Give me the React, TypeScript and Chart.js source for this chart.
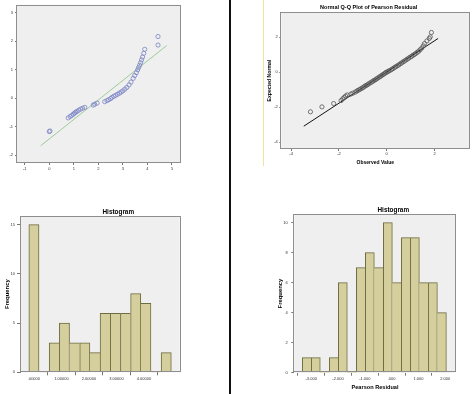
import React, { useEffect, useRef } from 'react';
import { Chart, registerables } from 'chart.js';

Chart.register(...registerables);

const FONT = '"Liberation Sans", Arial, Helvetica, sans-serif';

// ---------- Panel A: top-left Q-Q plot ----------
const qqAX = [0, 0.03, 0.77, 0.85, 0.92, 0.98, 1.03, 1.08, 1.13, 1.2, 1.28, 1.36, 1.45, 1.79, 1.85, 1.95,
  2.26, 2.35, 2.42, 2.5, 2.56, 2.63, 2.7, 2.78, 2.86, 2.93, 3.0, 3.08, 3.16, 3.25, 3.33, 3.42, 3.48,
  3.55, 3.6, 3.64, 3.68, 3.72, 3.76, 3.8, 3.85, 3.89, 4.43, 4.43];
const qqAY = [-1.17, -1.15, -0.69, -0.64, -0.6, -0.56, -0.52, -0.49, -0.46, -0.42, -0.38, -0.35, -0.32, -0.24, -0.21, -0.17,
  -0.12, -0.08, -0.05, -0.01, 0.03, 0.07, 0.1, 0.14, 0.18, 0.22, 0.26, 0.32, 0.38, 0.47, 0.57, 0.7, 0.8,
  0.9, 1.0, 1.08, 1.16, 1.25, 1.35, 1.45, 1.58, 1.72, 1.87, 2.17];
const qqALineX = [-0.35, 4.78];
const qqALineY = [-1.67, 1.85];
const qqAXTicks = [-1, 0, 1, 2, 3, 4, 5];
const qqAXLabels = ['-1', '0', '1', '2', '3', '4', '5'];
const qqAYTicks = [-2, -1, 0, 1, 2, 3];
const qqAYLabels = ['-2', '-1', '0', '1', '2', '3'];

// ---------- Panel B: top-right Normal Q-Q plot of Pearson Residual ----------
const qqBObserved = [-3.19, -2.71, -2.22, -1.91, -1.84, -1.78, -1.72, -1.65, -1.5, -1.42,
  -1.32, -1.25, -1.2, -1.14, -1.08, -1.02, -0.97, -0.92, -0.86, -0.81, -0.76, -0.7, -0.64, -0.58, -0.53,
  -0.47, -0.42, -0.37, -0.31, -0.26, -0.21, -0.16, -0.11, -0.06, -0.02, 0.03, 0.08, 0.14, 0.2, 0.26,
  0.32, 0.38, 0.44, 0.5, 0.56, 0.62, 0.68, 0.74, 0.8, 0.86, 0.92, 0.98, 1.04, 1.1, 1.16, 1.22, 1.28,
  1.34, 1.4, 1.47, 1.53, 1.58, 1.68, 1.78, 1.82, 1.87];
const qqBExpected = [-2.26, -1.98, -1.79, -1.62, -1.52, -1.44, -1.36, -1.3, -1.25, -1.2,
  -1.14, -1.08, -1.04, -0.99, -0.95, -0.9, -0.86, -0.8, -0.76, -0.72, -0.67, -0.62, -0.57, -0.52, -0.47,
  -0.43, -0.38, -0.33, -0.28, -0.24, -0.19, -0.14, -0.1, -0.05, -0.01, 0.02, 0.06, 0.1, 0.15, 0.2,
  0.26, 0.31, 0.36, 0.41, 0.47, 0.52, 0.58, 0.63, 0.69, 0.74, 0.8, 0.85, 0.9, 0.96, 1.01, 1.07, 1.13,
  1.2, 1.28, 1.38, 1.5, 1.63, 1.78, 1.92, 2.01, 2.26];
const qqBLineX = [-3.47, 2.15];
const qqBLineY = [-3.08, 1.92];
const qqBXTicks = [-4, -2, 0, 2];
const qqBXLabels = ['-4', '-2', '0', '2'];
const qqBYTicks = [-4, -2, 0, 2];
const qqBYLabels = ['-4', '-2', '0', '2'];

// ---------- Panel C: bottom-left histogram ----------
const histCCenters = [0, 0.37, 0.74, 1.11, 1.48, 1.85, 2.22, 2.59, 2.96, 3.33, 3.7, 4.07, 4.44, 4.81];
const histCCounts = [15, 0, 3, 5, 3, 3, 2, 6, 6, 6, 8, 7, 0, 2];
const histCXTicks = [0, 1, 2, 3, 4];
const histCXLabels = ['.00000', '1.00000', '2.00000', '3.00000', '4.00000'];
const histCYTicks = [0, 5, 10, 15];
const histCYLabels = ['0', '5', '10', '15'];

// ---------- Panel D: bottom-right histogram of Pearson Residual ----------
const histDCenters = [-3.165, -2.829, -2.493, -2.157, -1.821, -1.485, -1.149, -0.813, -0.477, -0.141,
  0.195, 0.531, 0.867, 1.203, 1.539, 1.875];
const histDCounts = [1, 1, 0, 1, 6, 0, 7, 8, 7, 10, 6, 9, 9, 6, 6, 4];
const histDXTicks = [-3, -2, -1, 0, 1, 2];
const histDXLabels = ['-3.000', '-2.000', '-1.000', '.000', '1.000', '2.000'];
const histDYTicks = [0, 2, 4, 6, 8, 10];
const histDYLabels = ['0', '2', '4', '6', '8', '10'];

const PLOT_BG = '#efefef';
const FRAME = '#8e8e8e';
const BAR_FILL = '#d4cf9c';
const BAR_EDGE = '#6e6c40';

const framePlugin = {
  id: 'frame',
  beforeDraw(chart: any) {
    const { ctx, chartArea: a } = chart;
    ctx.save();
    ctx.fillStyle = PLOT_BG;
    ctx.fillRect(a.left, a.top, a.right - a.left, a.bottom - a.top);
    ctx.restore();
  },
  afterDraw(chart: any, _args: any, opts: any) {
    const { ctx, chartArea: a } = chart;
    ctx.save();
    ctx.strokeStyle = FRAME;
    ctx.lineWidth = 1;
    ctx.strokeRect(Math.round(a.left) - 0.5, Math.round(a.top) + 0.5, Math.round(a.right - a.left) + 1, Math.round(a.bottom - a.top) - 1);
    if (opts && opts.text) {
      ctx.fillStyle = '#000';
      ctx.font = `bold ${opts.size}px ${FONT}`;
      ctx.textAlign = 'center';
      ctx.textBaseline = 'middle';
      ctx.fillText(opts.text, opts.x, opts.y);
    }
    ctx.restore();
  },
};

type ScaleArgs = {
  min: number; max: number; ticks: number[]; labels: string[];
  size: number; horizontal: boolean; tickLen: number; pad: number;
  title?: { text: string; size: number; padTop?: number; padBottom?: number };
};

function scaleOpts(o: ScaleArgs) {
  return {
    type: 'linear',
    min: o.min,
    max: o.max,
    afterBuildTicks: (s: any) => { s.ticks = o.ticks.map((v) => ({ value: v })); },
    afterFit: (s: any) => { if (o.horizontal) s.height = o.size; else s.width = o.size; },
    border: { display: false },
    grid: { display: true, drawOnChartArea: false, drawTicks: true, tickLength: o.tickLen, color: '#777', lineWidth: 1 },
    ticks: {
      font: { size: 4, family: FONT },
      color: '#333',
      padding: o.pad,
      maxRotation: 0,
      minRotation: 0,
      autoSkip: false,
      includeBounds: false,
      callback: (_v: any, i: number) => o.labels[i],
    },
    title: o.title
      ? {
          display: true, text: o.title.text, color: '#000',
          font: { size: o.title.size, weight: 'bold', family: FONT },
          padding: { top: o.title.padTop ?? 0, bottom: o.title.padBottom ?? 0 },
        }
      : { display: false },
  };
}

function histBorder(counts: number[]) {
  return (ctx: any) => {
    const i = ctx.dataIndex;
    const c = counts[i];
    const prev = i > 0 ? counts[i - 1] : 0;
    const next = i < counts.length - 1 ? counts[i + 1] : 0;
    return { top: 1, bottom: 0, left: c >= prev ? 1 : 0, right: c > next ? 1 : 0 };
  };
}

function configA(): any {
  return {
    type: 'scatter',
    data: {
      datasets: [
        {
          data: qqAX.map((x, i) => ({ x, y: qqAY[i] })),
          pointRadius: 2.1, pointBorderWidth: 0.8,
          borderColor: '#7a84c4', backgroundColor: 'rgba(0,0,0,0)',
        },
        {
          data: qqALineX.map((x, i) => ({ x, y: qqALineY[i] })),
          showLine: true, pointRadius: 0, borderColor: '#9ccc98', borderWidth: 1,
        },
      ],
    },
    options: {
      animation: false, responsive: true, maintainAspectRatio: false,
      layout: { padding: { left: 0, right: 49, top: 1, bottom: 22 } },
      plugins: { legend: { display: false }, tooltip: { enabled: false }, frame: {} },
      scales: {
        x: scaleOpts({ min: -1.314, max: 5.326, ticks: qqAXTicks, labels: qqAXLabels, size: 12, horizontal: true, tickLen: 2, pad: 1 }),
        y: scaleOpts({ min: -2.275, max: 3.285, ticks: qqAYTicks, labels: qqAYLabels, size: 17, horizontal: false, tickLen: 2, pad: 2 }),
      },
    },
    plugins: [framePlugin],
  };
}

function configB(): any {
  return {
    type: 'scatter',
    data: {
      datasets: [
        {
          data: qqBObserved.map((x, i) => ({ x, y: qqBExpected[i] })),
          pointRadius: 2.1, pointBorderWidth: 0.8,
          borderColor: '#555', backgroundColor: 'rgba(0,0,0,0)',
        },
        {
          data: qqBLineX.map((x, i) => ({ x, y: qqBLineY[i] })),
          showLine: true, pointRadius: 0, borderColor: '#111', borderWidth: 1,
        },
      ],
    },
    options: {
      animation: false, responsive: true, maintainAspectRatio: false,
      layout: { padding: { left: 33, right: 1.3, top: 12.3, bottom: 30 } },
      plugins: {
        legend: { display: false }, tooltip: { enabled: false },
        frame: { text: 'Normal Q-Q Plot of Pearson Residual', x: 137.7, y: 7.3, size: 5.5 },
      },
      scales: {
        x: scaleOpts({
          min: -4.41, max: 3.45, ticks: qqBXTicks, labels: qqBXLabels, size: 18, horizontal: true, tickLen: 2, pad: 0.6,
          title: { text: 'Observed Value', size: 5, padBottom: 1.7 },
        }),
        y: scaleOpts({
          min: -4.38, max: 3.41, ticks: qqBYTicks, labels: qqBYLabels, size: 17.3, horizontal: false, tickLen: 2, pad: 1.6,
          title: { text: 'Expected Normal', size: 5.1, padTop: 2.9 },
        }),
      },
    },
    plugins: [framePlugin],
  };
}

function configC(): any {
  return {
    type: 'bar',
    data: {
      datasets: [
        {
          data: histCCenters.map((x, i) => ({ x, y: histCCounts[i] })),
          backgroundColor: BAR_FILL, borderColor: BAR_EDGE,
          borderWidth: histBorder(histCCounts), borderSkipped: false,
          barPercentage: 1, categoryPercentage: 1,
        },
      ],
    },
    options: {
      animation: false, responsive: true, maintainAspectRatio: false,
      layout: { padding: { left: 0, right: 49.3, top: 19, bottom: 0 } },
      plugins: {
        legend: { display: false }, tooltip: { enabled: false },
        frame: { text: 'Histogram', x: 118.3, y: 15, size: 6.4 },
      },
      scales: {
        x: { ...scaleOpts({ min: -0.47, max: 5.3, ticks: histCXTicks, labels: histCXLabels, size: 21.7, horizontal: true, tickLen: 3, pad: 1.6 }), offset: false },
        y: scaleOpts({
          min: 0, max: 15.88, ticks: histCYTicks, labels: histCYLabels, size: 21, horizontal: false, tickLen: 4, pad: 2,
          title: { text: 'Frequency', size: 5.9, padTop: 3.8 },
        }),
      },
    },
    plugins: [framePlugin],
  };
}

function configD(): any {
  return {
    type: 'bar',
    data: {
      datasets: [
        {
          data: histDCenters.map((x, i) => ({ x, y: histDCounts[i] })),
          backgroundColor: BAR_FILL, borderColor: BAR_EDGE,
          borderWidth: histBorder(histDCounts), borderSkipped: false,
          barPercentage: 1, categoryPercentage: 1,
        },
      ],
    },
    options: {
      animation: false, responsive: true, maintainAspectRatio: false,
      layout: { padding: { left: 40, right: 18.3, top: 17.3, bottom: 0 } },
      plugins: {
        legend: { display: false }, tooltip: { enabled: false },
        frame: { text: 'Histogram', x: 162.3, y: 13.3, size: 6.4 },
      },
      scales: {
        x: {
          ...scaleOpts({
            min: -3.63, max: 2.39, ticks: histDXTicks, labels: histDXLabels, size: 21.3, horizontal: true, tickLen: 3, pad: 0.9,
            title: { text: 'Pearson Residual', size: 5.6, padBottom: 3 },
          }),
          offset: false,
        },
        y: scaleOpts({
          min: 0, max: 10.56, ticks: histDYTicks, labels: histDYLabels, size: 23.3, horizontal: false, tickLen: 3, pad: 3.6,
          title: { text: 'Frequency', size: 5.9, padTop: 5.8 },
        }),
      },
    },
    plugins: [framePlugin],
  };
}

function Panel({ make, left, top, width, height }: { make: () => any; left: number; top: number; width: number; height: number }) {
  const ref = useRef<HTMLCanvasElement | null>(null);
  useEffect(() => {
    if (!ref.current) return;
    const chart = new Chart(ref.current, make());
    return () => chart.destroy();
  }, [make]);
  return (
    <div style={{ position: 'absolute', left, top, width, height }}>
      <canvas ref={ref} />
    </div>
  );
}

export default function App() {
  return (
    <div style={{ position: 'absolute', left: 0, top: 0, width: 474, height: 394, background: '#fff', overflow: 'hidden' }}>
      <Panel make={configA} left={0} top={0} width={229} height={197} />
      <Panel make={configB} left={231} top={0} width={243} height={197} />
      <Panel make={configC} left={0} top={197} width={229} height={197} />
      <Panel make={configD} left={231} top={197} width={243} height={197} />
      <div style={{ position: 'absolute', left: 229, top: 0, width: 2, height: 394, background: '#111' }} />
      <div style={{ position: 'absolute', left: 263, top: 0, width: 1, height: 166, background: '#efe2a2' }} />
    </div>
  );
}
